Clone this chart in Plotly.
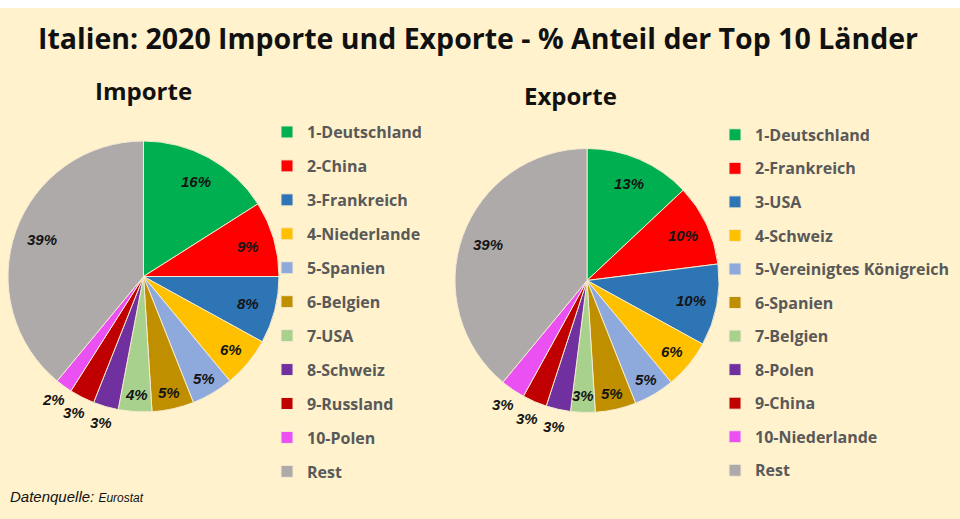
import math
import plotly.graph_objects as go

# ---------------- data ----------------
imp_labels = ["1-Deutschland", "2-China", "3-Frankreich", "4-Niederlande", "5-Spanien",
              "6-Belgien", "7-USA", "8-Schweiz", "9-Russland", "10-Polen", "Rest"]
imp_values = [16, 9, 8, 6, 5, 5, 4, 3, 3, 2, 39]

exp_labels = ["1-Deutschland", "2-Frankreich", "3-USA", "4-Schweiz", "5-Vereinigtes Königreich",
              "6-Spanien", "7-Belgien", "8-Polen", "9-China", "10-Niederlande", "Rest"]
exp_values = [13, 10, 10, 6, 5, 5, 3, 3, 3, 3, 39]

slice_colors = ["#00B050", "#FF0000", "#2E75B6", "#FFC000", "#8EA9DB", "#BF8F00",
                "#A9D18E", "#7030A0", "#C00000", "#EA50F2", "#AEAAAA"]
outside_idx = [7, 8, 9]

W, H = 960, 519
BG = "#FFF2CC"
LEG_FONT = "Open Sans"
TITLE_FONT = "Open Sans"
LABEL_FONT = dict(family="Liberation Sans, Arial, sans-serif", size=15, color="#141414",
                  style="italic", weight="bold")

# pie boxes in pixels (left, right, top, bottom)
imp_box = (8, 279, 140, 413)
exp_box = (455, 719, 148, 413)


def dom(box):
    l, r, t, b = box
    return dict(x=[l / W, r / W], y=[1 - b / H, 1 - t / H])


def leg_label(s, tag):
    return '<span style="font-size:16px;baseline-shift:3px' + tag + '">' + s + '</span>'


def make_pie(labels, values, box, legend, tag):
    return go.Pie(
        labels=[leg_label(l, tag) for l in labels],
        values=values,
        sort=False,
        direction="clockwise",
        rotation=0,
        domain=dom(box),
        marker=dict(colors=slice_colors, line=dict(color="#F4EBD0", width=1)),
        textinfo="none",
        hoverinfo="label+percent",
        legend=legend,
        showlegend=True,
    )


def value_annots(values, box, off):
    l, r, t, b = box
    cx, cy = (l + r) / 2, (t + b) / 2
    R = min(r - l, b - t) / 2
    total = float(sum(values))
    cum = 0.0
    out = []
    for i, v in enumerate(values):
        mid = (cum + v / 2) / total * 2 * math.pi
        cum += v
        if i in outside_idx:
            rr = R + off
        elif v >= 8:
            rr = 0.80 * R
        elif v >= 6:
            rr = 0.84 * R
        else:
            rr = 0.875 * R
        x = cx + rr * math.sin(mid)
        y = cy - rr * math.cos(mid)
        out.append(dict(text=f"{v}%", x=x / W, y=1 - y / H, xref="paper", yref="paper",
                        showarrow=False, xanchor="center", yanchor="middle",
                        font=LABEL_FONT))
    return out


fig = go.Figure()
fig.add_trace(make_pie(imp_labels, imp_values, imp_box, "legend", ""))
fig.add_trace(make_pie(exp_labels, exp_values, exp_box, "legend2", ";"))


def leg(x, ytop, fsize):
    return dict(
        x=x / W, y=1 - ytop / H,
        bgcolor="rgba(0,0,0,0)",
        font=dict(family=LEG_FONT, size=fsize, color="#595959", weight="bold"),
        xanchor="left", yanchor="top", traceorder="normal",
        itemclick=False, itemdoubleclick=False,
    )


annots = [
    dict(text="Italien: 2020 Importe und Exporte - % Anteil der Top 10 Länder",
         x=478 / W, y=1 - 38 / H, xref="paper", yref="paper", showarrow=False,
         xanchor="center", yanchor="middle",
         font=dict(family=TITLE_FONT, size=28.5, color="#111111", weight="bold")),
    dict(text="Importe", x=143 / W, y=1 - 90 / H, xref="paper", yref="paper",
         showarrow=False, xanchor="center", yanchor="middle",
         font=dict(family=TITLE_FONT, size=24, color="#111111", weight="bold")),
    dict(text="Exporte", x=570 / W, y=1 - 95 / H, xref="paper", yref="paper",
         showarrow=False, xanchor="center", yanchor="middle",
         font=dict(family=TITLE_FONT, size=24, color="#111111", weight="bold")),
    dict(text='Datenquelle: <span style="font-size:12px">Eurostat</span>',
         x=8 / W, y=1 - 496 / H, xref="paper", yref="paper",
         showarrow=False, xanchor="left", yanchor="middle",
         font=dict(family="Liberation Sans, Arial, sans-serif", size=15,
                   color="#111111", style="italic")),
]
annots += value_annots(imp_values, imp_box, 17)
annots += value_annots(exp_values, exp_box, 18)

fig.update_layout(
    width=W, height=H,
    margin=dict(l=0, r=0, t=0, b=0),
    paper_bgcolor=BG,
    plot_bgcolor=BG,
    legend=leg(267, 110, 23.8),
    legend2=leg(715, 113, 23.5),
    shapes=[dict(type="rect", xref="paper", yref="paper", x0=0, x1=1,
                 y0=1 - 8 / H, y1=1, fillcolor="white", line=dict(width=0), layer="below")],
    annotations=annots,
)

fig.write_html("out.html")
